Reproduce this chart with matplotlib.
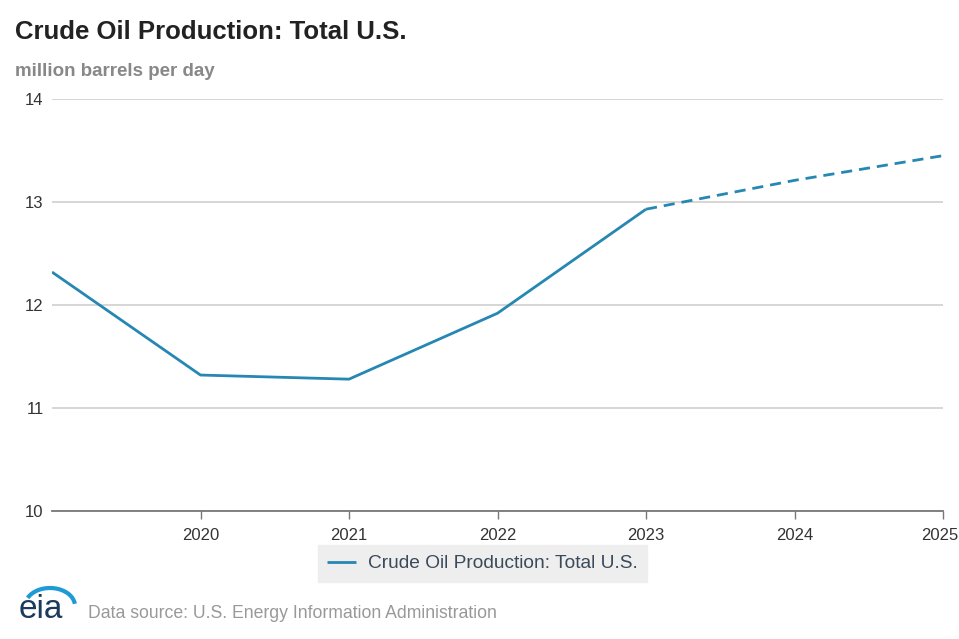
import numpy as np
import matplotlib
matplotlib.use("Agg")
import matplotlib.pyplot as plt
import matplotlib.transforms as mtrans
from matplotlib.patches import Arc

plt.rcParams['font.family'] = ['Liberation Sans', 'DejaVu Sans']

# annual values, million barrels per day
hist_years = [2019, 2020, 2021, 2022, 2023]
hist_vals = [12.32, 11.32, 11.28, 11.92, 12.93]
fcst_years = [2023, 2024, 2025]
fcst_vals = [12.93, 13.21, 13.45]
yticks = [10, 11, 12, 13, 14]
xticks = [2020, 2021, 2022, 2023, 2024, 2025]

line_col = '#2687b3'
fig = plt.figure(figsize=(9.59, 6.39), dpi=100)
ax = fig.add_axes([52/959, 1-511/639, (943-52)/959, (511-99)/639])

ax.plot(hist_years, hist_vals, color=line_col, lw=2.0, solid_capstyle='butt',
        label='Crude Oil Production: Total U.S.')
ax.plot(fcst_years, fcst_vals, color=line_col, lw=2.0, ls=(0, (4, 2.5)))

ax.set_xlim(2019, 2025)
ax.set_ylim(10, 14)
ax.set_yticks(yticks)
ax.set_xticks(xticks)
ax.set_yticklabels([str(v) for v in yticks], fontsize=12, color='#333333')
ax.set_xticklabels([str(v) for v in xticks], fontsize=12, color='#333333')
ax.tick_params(axis='y', length=0, pad=6)
ax.tick_params(axis='x', length=6, width=1, color='#777777', pad=6, direction='out')
# keep the last year label inside the figure edge
last = ax.get_xticklabels()[-1]
last.set_transform(last.get_transform() + mtrans.ScaledTranslation(-3/100, 0, fig.dpi_scale_trans))
for s in ['top', 'right', 'left']:
    ax.spines[s].set_visible(False)
ax.spines['bottom'].set_color('#777777')
ax.spines['bottom'].set_linewidth(1.3)
ax.grid(axis='y', color='#cccccc', lw=1.1)
ax.set_axisbelow(True)

leg = ax.legend(loc='upper center', bbox_to_anchor=(0.483, -0.06), frameon=True,
                fontsize=13.8, handlelength=1.5, handletextpad=0.6, borderpad=0.5,
                fancybox=False, edgecolor='#eeeeee', facecolor='#eeeeee', framealpha=1)
for t in leg.get_texts():
    t.set_color('#3a4a5a')

fig.text(15/959, 1-32/639, 'Crude Oil Production: Total U.S.', fontsize=18.5,
         fontweight='bold', color='#222222', va='center')
fig.text(15/959, 1-72/639, 'million barrels per day', fontsize=13.5,
         fontweight='bold', color='#888888', va='center')

# eia logo
fig.text(19/959, 1-618/639, 'eia', fontsize=24, color='#1b3a5c', va='baseline',
         fontweight='medium')
lax = fig.add_axes([0, 1-639/639, 100/959, 69/639])
lax.set_xlim(0, 100)
lax.set_ylim(69, 0)
lax.axis('off')
lax.add_patch(Arc((50, 36), 50, 36, theta1=200, theta2=355, color='#1e9ad6', lw=3))
fig.text(88/959, 1-613/639, 'Data source: U.S. Energy Information Administration',
         fontsize=12.7, color='#999999', va='center')

fig.savefig('out.png', dpi=100)
